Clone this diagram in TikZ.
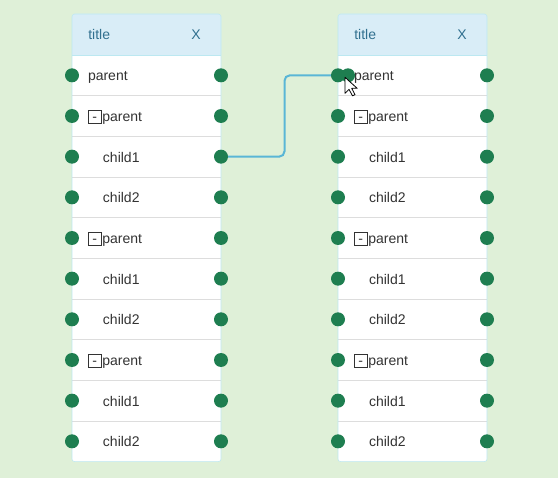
\documentclass[tikz,border=0pt]{standalone}
\usepackage{fontspec}
\setmainfont{Liberation Sans}
\usetikzlibrary{positioning,calc,backgrounds}
\definecolor{pagebg}{HTML}{DFF0D8}
\definecolor{headbg}{HTML}{D9EDF7}
\definecolor{headline}{HTML}{BCE8F1}
\definecolor{headtext}{HTML}{31708F}
\definecolor{rowline}{HTML}{DDDDDD}
\definecolor{bodytext}{HTML}{333333}
\definecolor{portgreen}{HTML}{1E7E50}
\definecolor{wireblue}{HTML}{5AB6D6}
\newcommand{\fold}{\raisebox{-1.5pt}{\setlength{\fboxsep}{0pt}\setlength{\fboxrule}{0.6pt}%
  \fbox{\makebox[9pt]{\rule{0pt}{9.5pt}\raisebox{1.5pt}{-}}}}\hspace{0.6pt}}
\newcommand{\kid}{\hspace*{11.25pt}}

\begin{document}
\begin{tikzpicture}[
    x=0.75pt, y=-0.75pt,
    font=\fontsize{10.5}{12}\selectfont,
    headbox/.style={minimum width=111.75pt, minimum height=30.75pt, inner sep=0pt, outer sep=0pt},
    rowbox/.style={minimum width=111.75pt, minimum height=30.5pt, inner xsep=12pt, inner ysep=0pt,
      outer sep=0pt, text width=87.75pt, align=left, text height=9.5pt, text depth=1.3pt,
      text=bodytext},
    port/.style={circle, fill=portgreen, minimum size=10.5pt, inner sep=0pt},
    wire/.style={wireblue, line width=1.5pt, rounded corners=4pt}
  ]
    \begin{scope}[on background layer]
      \fill[pagebg] (0,0) rectangle (558,478);
    \end{scope}

    % two tables
    \foreach \p/\x in {L/146.5, R/412.5}{
      \node[headbox] (\p head) at (\x,34.5) {};
      \foreach \r/\txt [remember=\r as \prev (initially head)] in
        {1/parent, 2/\fold parent, 3/\kid child1, 4/\kid child2, 5/\fold parent,
         6/\kid child1, 7/\kid child2, 8/\fold parent, 9/\kid child1, 10/\kid child2}
        \node[rowbox, below=0pt of \p\prev] (\p\r) {\txt};
      \begin{scope}[on background layer]
        \fill[white, rounded corners=2pt] (\p head.north west) rectangle (\p10.south east);
        \fill[headbg, rounded corners=2pt] (\p head.south west) |- (\p head.north east) -- (\p head.south east);
      \end{scope}
      \draw[headline] (\p head.south west) -- (\p head.south east);
      \foreach \r in {1,...,9}
        \draw[rowline] (\p\r.south west) -- (\p\r.south east);
      \draw[headline, rounded corners=2pt] (\p head.north west) rectangle (\p10.south east);
      \node[anchor=west, inner sep=0pt, text=headtext] at ([xshift=12pt]\p head.west) {title};
      \node[inner sep=0pt, text=headtext] at ([xshift=-18.75pt]\p head.east) {X};
    }

    % link being dragged
    \coordinate (grab) at ([xshift=7.5pt]R1.west);
    \coordinate (bend) at ($(L3.east)!0.5!(grab)$);
    \draw[wire] (L3.east) -| (bend) |- (grab);

    \foreach \p in {L,R}
      \foreach \r in {1,...,10}{
        \node[port] (\p\r in) at (\p\r.west) {};
        \node[port] (\p\r out) at (\p\r.east) {};
      }
    \node[port] (drag) at (grab) {};

    % mouse pointer
    \draw[fill=white, line width=0.6pt, line join=round]
      ([shift={(-3,2)}]drag.center) -- ++(0,16) -- ++(4,-4) -- ++(3.5,6.5) -- ++(2.5,-1.2)
      -- ++(-3.3,-6.3) -- ++(5.5,0) -- cycle;
\end{tikzpicture}
\end{document}
